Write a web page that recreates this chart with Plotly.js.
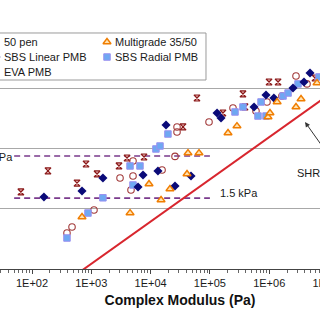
<!DOCTYPE html>
<html>
<head>
<meta charset="utf-8">
<script src="https://cdn.plot.ly/plotly-3.0.1.min.js"></script>
<style>
  html, body { margin: 0; padding: 0; overflow: hidden; background: #fff; }
  #chart { width: 360px; height: 320px; }
</style>
</head>
<body>
<div id="chart"></div>
<script>
// Axis ticks (complex modulus, Pa)
const tickVals = [1e1, 1e2, 1e3, 1e4, 1e5, 1e6, 1e7];
const tickText = ['1E+01', '1E+02', '1E+03', '1E+04', '1E+05', '1E+06', '1E+07'];

// 50 pen binder
const penX = [65, 186, 574, 815, 1250, 2930, 4000, 7740, 35200, 60500, 166000, 361000, 391000, 993000, 1410000, 5910000];
const penY = [1900, 4240, 2670, 5530, 3780, 5130, 6950, 7230, 22800, 68900, 38800, 80400, 48900, 127000, 127000, 148000];

// EVA PMB
const evaX = [389, 473, 1110, 3050, 4670, 5050, 5050, 15600, 25800, 27900, 27900, 96600, 245000, 598000, 918000, 1640000, 2830000, 4340000];
const evaY = [396, 498, 953, 3240, 2050, 3500, 6210, 4400, 7400, 22800, 18800, 27500, 47000, 41900, 59200, 74300, 160000, 118000];

// SBS Linear PMB
const linX = [159, 697, 1570, 6140, 7450, 13300, 18200, 25800, 48000, 132000, 154000, 555000, 883000, 1200000, 2520000, 3860000, 4880000];
const linY = [1570, 1970, 3240, 2300, 3630, 4240, 24500, 2390, 3500, 38800, 32100, 48900, 77300, 68900, 101000, 127000, 179000];

// SBS Radial PMB
const radX = [389, 879, 1570, 4500, 6620, 5050, 12300, 14400, 19600, 265000, 361000, 647000, 883000, 728000, 1710000, 2080000, 3060000, 6920000];
const radY = [327, 849, 1520, 5130, 5130, 2480, 9820, 11000, 17400, 40400, 48900, 34600, 34600, 59200, 74300, 83400, 118000, 154000];

// Multigrade 35/50
const mgX = [697, 4500, 9400, 15000, 21200, 41100, 42700, 65500, 202000, 286000, 955000, 1030000, 1360000, 2830000, 3440000, 6400000];
const mgY = [729, 849, 2580, 1400, 2130, 3780, 8410, 8410, 18100, 23600, 33300, 38800, 59200, 48900, 66400, 122000];

// Specification limits (Pa) and the SHR line
const limitX = [50, 100000];
const upperLimit = [7500, 7500];
const lowerLimit = [1500, 1500];
const shrX = [700, 20000000];
const shrY = [95, 126000];

const seriesNames = ['50 pen', 'Multigrade 35/50', 'SBS Linear PMB', 'SBS Radial PMB', 'EVA PMB'];

// Marker styles
const styles = {
  pen: { symbol: 'hourglass', size: 6, color: '#e9b9b9', line: { color: '#8b1a1a', width: 1.2 } },
  mg:  { symbol: 'triangle-up', size: 7, color: '#ffe2b0', line: { color: '#f07d00', width: 1.4 } },
  lin: { symbol: 'diamond', size: 7, color: '#0a0a78', line: { width: 0 } },
  rad: { symbol: 'square', size: 6.5, color: '#6ea8f2', line: { color: '#9a90f0', width: 1 } },
  eva: { symbol: 'circle-open', size: 6.5, color: '#a23a3a', line: { color: '#a23a3a', width: 1.1 } }
};

function pts(x, y, marker) {
  return { type: 'scatter', mode: 'markers', x: x, y: y, marker: marker, showlegend: false, hoverinfo: 'skip' };
}
function seg(x, y, line) {
  return { type: 'scatter', mode: 'lines', x: x, y: y, line: line, showlegend: false, hoverinfo: 'skip' };
}

const dashLine = { color: '#7a3a8c', width: 1.6, dash: '6px,4px' };

const traces = [
  seg(limitX, upperLimit, dashLine),
  seg(limitX, lowerLimit, dashLine),
  seg(shrX, shrY, { color: '#d8262e', width: 2 }),
  pts(penX, penY, styles.pen),
  pts(evaX, evaY, styles.eva),
  pts(radX, radY, styles.rad),
  pts(linX, linY, styles.lin),
  pts(mgX, mgY, styles.mg)
];

// Boxed key, laid out in pixel units on an overlay axis pair
const keyCols = [2, 113];
const keyRows = [42, 57, 72];
const keyOrder = [
  { name: seriesNames[0], style: styles.pen, col: 0, row: 0 },
  { name: seriesNames[1], style: styles.mg,  col: 1, row: 0 },
  { name: seriesNames[2], style: styles.lin, col: 0, row: 1 },
  { name: seriesNames[3], style: styles.rad, col: 1, row: 1 },
  { name: seriesNames[4], style: styles.eva, col: 0, row: 2 }
];

const annotations = [];
keyOrder.forEach(k => {
  traces.push({
    type: 'scatter', mode: 'markers', xaxis: 'x2', yaxis: 'y2',
    x: [keyCols[k.col] - 6], y: [keyRows[k.row]],
    marker: k.style, showlegend: false, hoverinfo: 'skip'
  });
  annotations.push({
    xref: 'x2', yref: 'y2', x: keyCols[k.col], y: keyRows[k.row],
    text: k.name, showarrow: false, xanchor: 'left', yanchor: 'middle',
    font: { family: 'Liberation Sans, Arial, sans-serif', size: 11, color: '#1a1a1a' }
  });
});

const labelFont = { family: 'Liberation Sans, Arial, sans-serif', size: 11, color: '#1a1a1a' };
annotations.push(
  { x: Math.log10(51.6), y: Math.log10(7300), text: '7.5 kPa', showarrow: false,
    xanchor: 'right', yanchor: 'middle', font: labelFont },
  { x: Math.log10(137000), y: Math.log10(1820), text: '1.5 kPa', showarrow: false,
    xanchor: 'left', yanchor: 'middle', font: labelFont },
  { x: Math.log10(2720000), y: Math.log10(3920), text: 'SHR', showarrow: false,
    xanchor: 'left', yanchor: 'middle', font: labelFont },
  { x: Math.log10(4020000), y: Math.log10(27500), text: '', showarrow: true,
    ax: 27, ay: 38, arrowhead: 2, arrowsize: 1, arrowwidth: 1, arrowcolor: '#333' }
);

const layout = {
  width: 360, height: 320,
  margin: { l: 0, r: 0, t: 28, b: 51 },
  paper_bgcolor: '#fff', plot_bgcolor: 'rgba(0,0,0,0)',
  showlegend: false,
  font: { family: 'Liberation Sans, Arial, sans-serif', color: '#1a1a1a' },
  xaxis: {
    type: 'log', range: [1.4604, 7.531],
    tickvals: tickVals, ticktext: tickText,
    ticks: 'outside', ticklen: 4, tickcolor: '#444', tickwidth: 1,
    minor: { ticks: 'outside', ticklen: 3, tickcolor: '#666', dtick: 'D1', showgrid: false },
    showline: true, linecolor: '#444', linewidth: 1,
    showgrid: false, zeroline: false,
    tickfont: { size: 11, color: '#1a1a1a' },
    title: { text: '<b>Complex Modulus (Pa)</b>', font: { size: 14, color: '#111' }, standoff: 6 }
  },
  yaxis: {
    type: 'log', range: [2, 6], dtick: 1,
    showgrid: true, gridcolor: '#a8a8a8', gridwidth: 1,
    showline: false, zeroline: false, showticklabels: false, ticks: ''
  },
  xaxis2: { overlaying: 'x', range: [0, 360], visible: false, fixedrange: true },
  yaxis2: { overlaying: 'y', range: [269, 28], visible: false, fixedrange: true },
  shapes: [
    { type: 'rect', xref: 'paper', yref: 'paper', x0: -0.1667, x1: 0.5722, y0: 0.7842, y1: 0.9793,
      line: { color: '#9a9a9a', width: 1 }, fillcolor: '#fff', layer: 'below' }
  ],
  annotations: annotations
};

Plotly.newPlot('chart', traces, layout, { staticPlot: true, displayModeBar: false });
</script>
</body>
</html>
